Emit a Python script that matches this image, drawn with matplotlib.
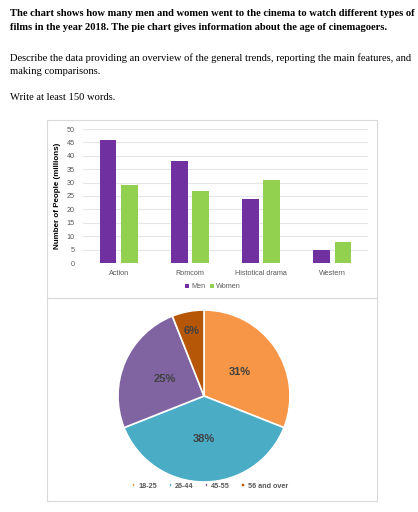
import numpy as np
import matplotlib
matplotlib.use('Agg')
import matplotlib.pyplot as plt
from matplotlib.patches import Rectangle

# bar chart data (millions)
genres = ['Action', 'Romcom', 'Histotical drama', 'Western']
men = [46, 38, 24, 5]
women = [29, 27, 31, 8]

# pie chart data (%)
age_groups = ['18-25', '26-44', '45-55', '56 and over']
age_share = [31, 38, 25, 6]

W, H = 418, 512
fig = plt.figure(figsize=(W / 100, H / 100), dpi=100)
fig.patch.set_facecolor('white')


def fx(px):
    return px / W


def fy(py):
    return 1 - py / H


serif = 'Liberation Serif'
sans = 'Liberation Sans'

# task text
fs = 7.55
fig.text(fx(10), fy(13), 'The chart shows how many men and women went to the cinema to watch different types of',
         family=serif, fontweight='bold', fontsize=fs, va='center', ha='left')
fig.text(fx(10), fy(27), 'films in the year 2018. The pie chart gives information about the age of cinemagoers.',
         family=serif, fontweight='bold', fontsize=fs, va='center', ha='left')
fig.text(fx(10), fy(58), 'Describe the data providing an overview of the general trends, reporting the main features, and',
         family=serif, fontsize=fs, va='center', ha='left')
fig.text(fx(10), fy(71), 'making comparisons.',
         family=serif, fontsize=fs, va='center', ha='left')
fig.text(fx(10), fy(97), 'Write at least 150 words.',
         family=serif, fontsize=fs, va='center', ha='left')

# chart frames
for top, bot in [(120, 298), (298, 501)]:
    fig.add_artist(Rectangle((fx(47), fy(bot)), fx(377) - fx(47), fy(top) - fy(bot),
                             transform=fig.transFigure, fill=False,
                             edgecolor='#D9D9D9', linewidth=0.8))

# bar chart
ax = fig.add_axes([fx(83), fy(263), fx(368) - fx(83), fy(129) - fy(263)])
x = np.arange(len(genres))
w = 0.235
bm = ax.bar(x - w / 2 - 0.03, men, w, color='#7030A0', label='Men', zorder=3)
bw = ax.bar(x + w / 2 + 0.03, women, w, color='#92D050', label='Women', zorder=3)
ax.set_xlim(-0.5, len(genres) - 0.5)
ax.set_ylim(0, 50)
ax.set_yticks(range(0, 51, 5))
ax.set_xticks(x)
ax.set_xticklabels(genres)
ax.tick_params(axis='both', length=0, labelsize=5.2, labelcolor='#595959')
ax.tick_params(axis='y', pad=6)
ax.tick_params(axis='x', pad=5)
for lbl in ax.get_xticklabels() + ax.get_yticklabels():
    lbl.set_family(sans)
ax.grid(axis='y', color='#E6E6E6', linewidth=0.8, zorder=0)
for s in ax.spines.values():
    s.set_visible(False)
ax.set_ylabel('Number of People (millions)', family=sans, fontweight='bold',
              fontsize=5.8, color='#000000', labelpad=4)
fig.legend(handles=[bm, bw], loc='center', bbox_to_anchor=(fx(213), fy(287)),
           ncol=2, frameon=False, prop={'family': sans, 'size': 5.2},
           labelcolor='#595959', handlelength=0.6, handleheight=0.6,
           handletextpad=0.3, columnspacing=0.6)

# pie chart
r = 86
pax = fig.add_axes([fx(204 - r), fy(396 + r), fx(2 * r), (2 * r) / H])
colors = ['#F79646', '#4BACC6', '#8064A2', '#B65708']
wedges, texts, autotexts = pax.pie(
    age_share, colors=colors, startangle=90, counterclock=False,
    autopct='%d%%', pctdistance=0.5, radius=1,
    wedgeprops={'edgecolor': 'white', 'linewidth': 1.2},
    textprops={'family': sans, 'fontweight': 'bold', 'fontsize': 8, 'color': '#404040'})
# small slice label sits further out
px, py = autotexts[3].get_position()
autotexts[3].set_position((px * 1.55, py * 1.55))
pax.set_xlim(-1, 1)
pax.set_ylim(-1, 1)
pax.set_aspect('equal')
pax.axis('off')
fig.legend(handles=wedges, labels=age_groups, loc='center',
           bbox_to_anchor=(fx(210), fy(486)), ncol=4, frameon=False,
           prop={'family': sans, 'size': 5.2, 'weight': 'bold'},
           labelcolor='#595959', handlelength=0.45, handleheight=0.45,
           handletextpad=0.4, columnspacing=1.6)

fig.savefig('out.png', dpi=100, facecolor='white')
